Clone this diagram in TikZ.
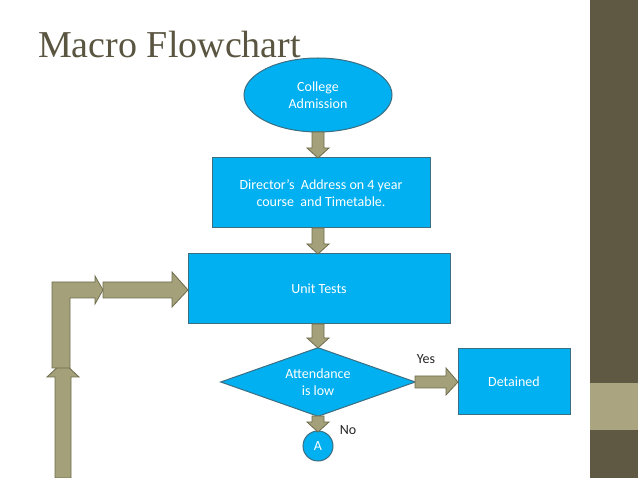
\documentclass[tikz,border=0pt]{standalone}
\usepackage{fontspec}
\setmainfont{Carlito}
\newfontfamily\titlefont{Liberation Serif}
\usetikzlibrary{shapes.geometric}
\definecolor{fillb}{RGB}{0,176,240}
\definecolor{edgeb}{RGB}{60,110,130}
\definecolor{olive}{RGB}{163,160,122}
\definecolor{olived}{RGB}{110,108,75}
\definecolor{barD}{RGB}{95,89,68}
\definecolor{barL}{RGB}{170,165,128}
\definecolor{titlec}{RGB}{90,85,65}
\tikzset{
 box/.style={draw=edgeb,line width=1pt,fill=fillb,text=white,font=\fontsize{14}{17}\selectfont,align=center,inner sep=0pt},
 blk/.style={draw=olived,line width=0.8pt,fill=olive},
 lbl/.style={font=\fontsize{14}{17}\selectfont,text=black!85}
}
\newcommand{\darr}[3]{\draw[blk] (#1-6,#2)--(#1+6,#2)--(#1+6,#3-10)--(#1+11,#3-10)--(#1,#3)--(#1-11,#3-10)--(#1-6,#3-10)--cycle;}
\begin{document}
\begin{tikzpicture}[x=1pt,y=-1pt]
\useasboundingbox (0,0) rectangle (638,478);
\fill[white] (0,0) rectangle (638,478);
\fill[barD] (590,0) rectangle (638,478);
\fill[barL] (590,383) rectangle (638,430);
\node[anchor=base west,text=titlec,font=\titlefont\fontsize{38}{40}\selectfont,inner sep=0pt] (title) at (38,58) {Macro Flowchart};
\node[box,ellipse,minimum width=148,minimum height=74] (adm) at (318,95) {College\\Admission};
\node[box,minimum width=218,minimum height=70] (dir) at (321,193) {Director’s\ \ Address on 4 year\\course\ \ and Timetable.};
\node[box,minimum width=262,minimum height=70] (unit) at (319,289) {Unit Tests};
\node[box,diamond,aspect=2.8,minimum width=195,minimum height=69] (att) at (318,382) {Attendance\\is low};
\node[box,minimum width=112,minimum height=66] (det) at (514,382) {Detained};
\node[box,circle,minimum size=30] (a) at (318,446) {A};
\darr{318}{132}{158}
\darr{318}{228}{254}
\darr{318}{324}{348}
\darr{318}{416}{432}
\draw[blk] (415,376)--(446,376)--(446,368)--(458,382)--(446,395)--(446,388)--(415,388)--cycle;
\node[lbl] (yes) at (426,359) {Yes};
\node[lbl] (no) at (348,430) {No};
% left loop
\draw[blk] (55,478)--(55,377)--(47,377)--(63,362)--(79,377)--(71,377)--(71,478)--cycle;
\draw[blk] (52,368)--(52,282)--(95,282)--(95,276)--(103,290)--(95,304)--(95,298)--(70,298)--(70,368)--cycle;
\draw[blk] (103,282)--(172,282)--(172,272)--(188,290)--(172,307)--(172,298)--(103,298)--cycle;
\end{tikzpicture}
\end{document}
